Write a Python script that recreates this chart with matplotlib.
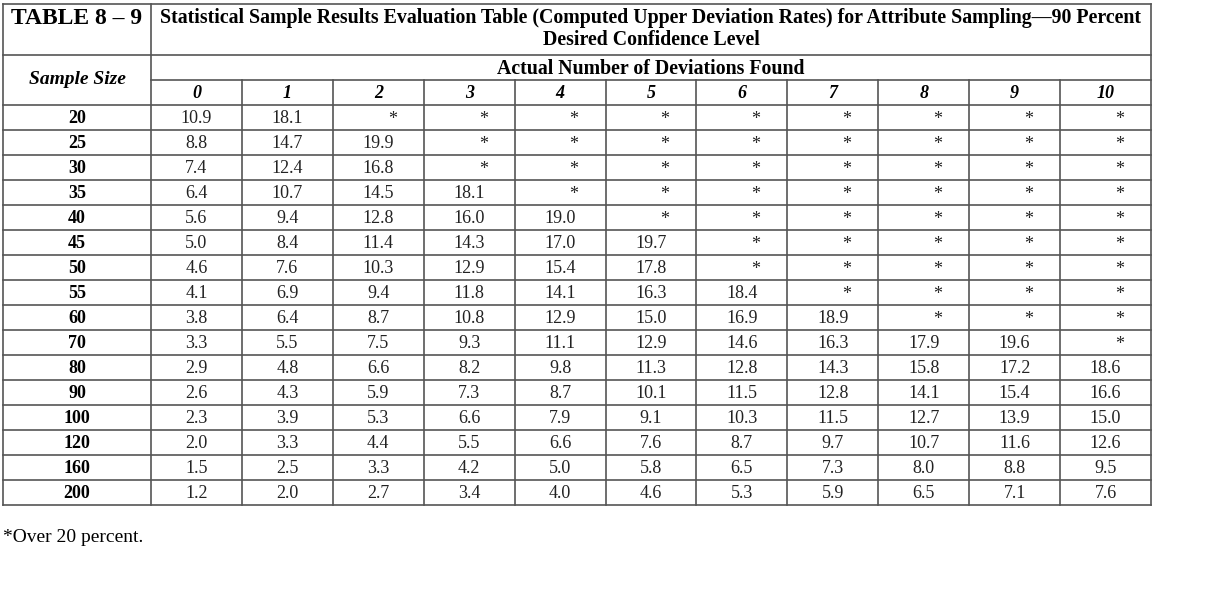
import matplotlib
matplotlib.use("Agg")
import matplotlib.pyplot as plt

title_label = "TABLE 8 – 9"
title_text = ["Statistical Sample Results Evaluation Table (Computed Upper Deviation Rates) for Attribute Sampling—90 Percent",
              "Desired Confidence Level"]
group_header = "Actual Number of Deviations Found"
row_header = "Sample Size"
footnote = "*Over 20 percent."
deviations = ["0", "1", "2", "3", "4", "5", "6", "7", "8", "9", "10"]
sample_sizes = ["20", "25", "30", "35", "40", "45", "50", "55", "60", "70", "80", "90", "100", "120", "160", "200"]
S = "*"
rates = [
    ["10.9", "18.1", S, S, S, S, S, S, S, S, S],
    ["8.8", "14.7", "19.9", S, S, S, S, S, S, S, S],
    ["7.4", "12.4", "16.8", S, S, S, S, S, S, S, S],
    ["6.4", "10.7", "14.5", "18.1", S, S, S, S, S, S, S],
    ["5.6", "9.4", "12.8", "16.0", "19.0", S, S, S, S, S, S],
    ["5.0", "8.4", "11.4", "14.3", "17.0", "19.7", S, S, S, S, S],
    ["4.6", "7.6", "10.3", "12.9", "15.4", "17.8", S, S, S, S, S],
    ["4.1", "6.9", "9.4", "11.8", "14.1", "16.3", "18.4", S, S, S, S],
    ["3.8", "6.4", "8.7", "10.8", "12.9", "15.0", "16.9", "18.9", S, S, S],
    ["3.3", "5.5", "7.5", "9.3", "11.1", "12.9", "14.6", "16.3", "17.9", "19.6", S],
    ["2.9", "4.8", "6.6", "8.2", "9.8", "11.3", "12.8", "14.3", "15.8", "17.2", "18.6"],
    ["2.6", "4.3", "5.9", "7.3", "8.7", "10.1", "11.5", "12.8", "14.1", "15.4", "16.6"],
    ["2.3", "3.9", "5.3", "6.6", "7.9", "9.1", "10.3", "11.5", "12.7", "13.9", "15.0"],
    ["2.0", "3.3", "4.4", "5.5", "6.6", "7.6", "8.7", "9.7", "10.7", "11.6", "12.6"],
    ["1.5", "2.5", "3.3", "4.2", "5.0", "5.8", "6.5", "7.3", "8.0", "8.8", "9.5"],
    ["1.2", "2.0", "2.7", "3.4", "4.0", "4.6", "5.3", "5.9", "6.5", "7.1", "7.6"],
]

plt.rcParams['font.family'] = ['Liberation Serif', 'DejaVu Serif']
fig = plt.figure(figsize=(12.23, 6.09), dpi=100)
ax = fig.add_axes([0, 0, 1, 1])
ax.set_xlim(0, 1223); ax.set_ylim(609, 0); ax.axis('off')

x0, x1, xe = 3, 151, 1151
ncol = len(deviations)
cw = (xe - x1) / ncol
xs = [x1 + i * cw for i in range(ncol + 1)]
y_top, y_h1, y_h2, y_h3 = 4, 55, 80, 105
rh = 25
nrow = len(sample_sizes)
y_end = y_h3 + nrow * rh
lc = '#555555'; lw = 1.2

def hl(y, a, b): ax.plot([a, b], [y, y], color=lc, lw=lw)
def vl(x, a, b): ax.plot([x, x], [a, b], color=lc, lw=lw)

hl(y_top, x0, xe); hl(y_h1, x0, xe); hl(y_h2, x1, xe); hl(y_h3, x0, xe)
for r in range(1, nrow + 1):
    hl(y_h3 + r * rh, x0, xe)
vl(x0, y_top, y_end); vl(x1, y_top, y_end); vl(xe, y_top, y_end)
for x in xs[1:-1]:
    vl(x, y_h2, y_end)

ax.text((x0 + x1) / 2, 18, title_label, ha='center', va='center', fontsize=17, fontweight='bold')
ax.text((x1 + xe) / 2, 18, title_text[0], ha='center', va='center', fontsize=14.3, fontweight='bold')
ax.text((x1 + xe) / 2, 40, title_text[1], ha='center', va='center', fontsize=14.3, fontweight='bold')
ax.text((x1 + xe) / 2, (y_h1 + y_h2) / 2 + 1, group_header, ha='center', va='center', fontsize=14.3, fontweight='bold')
ax.text((x0 + x1) / 2, (y_h1 + y_h3) / 2, row_header, ha='center', va='center', fontsize=14, fontweight='bold', style='italic')
for j, d in enumerate(deviations):
    ax.text((xs[j] + xs[j + 1]) / 2, (y_h2 + y_h3) / 2 + 1, d, ha='center', va='center', fontsize=13, fontweight='bold', style='italic')
for i, s in enumerate(sample_sizes):
    yc = y_h3 + i * rh + rh / 2 + 1
    ax.text((x0 + x1) / 2, yc, s, ha='center', va='center', fontsize=13, fontweight='bold')
    for j, v in enumerate(rates[i]):
        xc = (xs[j] + xs[j + 1]) / 2 + (14 if v == S else 0)
        ax.text(xc, yc + (1 if v == S else 0), v, ha='center', va='center', fontsize=13, color='#222222')
ax.text(3, 538, footnote, ha='left', va='center', fontsize=14)
fig.savefig("out.png", dpi=100)
